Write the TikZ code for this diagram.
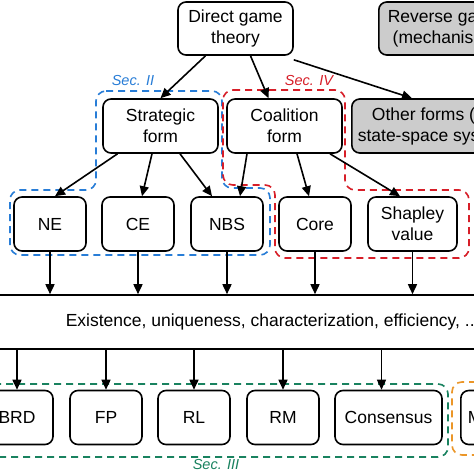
\documentclass[tikz,border=0pt]{standalone}
\usepackage{fontspec}
\setmainfont{Liberation Sans}
\usetikzlibrary{arrows.meta}
\definecolor{bleuSec}{RGB}{40,125,215}
\definecolor{rougeSec}{RGB}{215,30,40}
\definecolor{vertSec}{RGB}{25,130,95}
\definecolor{orangeSec}{RGB}{235,150,40}
\definecolor{grisBoite}{RGB}{204,204,204}
\begin{document}
\begin{tikzpicture}[x=1pt,y=-1pt]
		\tikzstyle{boite}=[draw,line width=1.6pt,rounded corners=8pt,fill=white,align=center,minimum height=54pt,minimum width=72pt,inner sep=0pt,font=\fontsize{17.5}{21}\selectfont]
		\tikzstyle{grise}=[boite,fill=grisBoite]
		\tikzstyle{fleche}=[line width=1.6pt,-{Triangle[length=10pt,width=9pt]}]
		\tikzstyle{zone}=[line width=1.6pt,dash pattern=on 7pt off 5pt,rounded corners=10pt]
		\tikzstyle{section}=[font=\fontsize{14.5}{17}\selectfont\itshape]
		\def\NiveauA{28.5}
		\def\NiveauB{126}
		\def\NiveauC{224}
		\def\NiveauD{322}
		\def\NiveauE{417.5}
		\fill[white] (0,0) rectangle (474,474);
		\useasboundingbox (0,0) rectangle (474,474);
		\clip (0,0) rectangle (474,474);
		% zones des sections
		\draw[zone,bleuSec] (96,91) -- (222,91) -- (222,188) -- (270,188) -- (270,255) -- (10,255) -- (10,190) -- (96,190) -- cycle;
		\draw[zone,rougeSec] (223,90) -- (345,90) -- (345,190) -- (469,190) -- (469,258) -- (275,258) -- (275,185) -- (223,185) -- cycle;
		\draw[zone,vertSec] (-30,384) -- (448,384) -- (448,457) -- (-30,457);
		\draw[zone,orangeSec] (500,382) -- (452,382) -- (452,455) -- (500,455);
		\node[section,text=bleuSec] (SecII) at (133,81) {Sec. II};
		\node[section,text=rougeSec] (SecIV) at (309,81) {Sec. IV};
		\node[section,text=vertSec] (SecIII) at (216,465) {Sec. III};
		% theorie
		\node[boite,minimum width=115pt,minimum height=53pt] (Direct) at (235.5,\NiveauA) {Direct game\\theory};
		\node[grise,anchor=west,inner xsep=9pt,minimum height=53pt] (Reverse) at (378,\NiveauA) {Reverse game theory\\(mechanism design)};
		% formes
		\node[boite,minimum width=115pt] (Strat) at (160.5,\NiveauB) {Strategic\\form};
		\node[boite,minimum width=115pt] (Coal) at (284.5,\NiveauB) {Coalition\\form};
		\node[grise,anchor=west,inner xsep=6pt] (Other) at (351,\NiveauB) {Other forms (e.g.,\\state-space systems)};
		% solutions
		\node[boite] (NE) at (50,\NiveauC) {NE};
		\node[boite] (CE) at (138,\NiveauC) {CE};
		\node[boite] (NBS) at (227,\NiveauC) {NBS};
		\node[boite] (Core) at (315,\NiveauC) {Core};
		\node[boite,minimum width=89pt] (Shapley) at (412.5,\NiveauC) {Shapley\\value};
		% proprietes
		\node[draw,line width=1.6pt,anchor=west,inner xsep=85pt,minimum height=54pt,font=\fontsize{17.5}{21}\selectfont] (Prop) at (-20,\NiveauD) {Existence, uniqueness, characterization, efficiency, ...};
		% algorithmes
		\node[boite] (BRD) at (17,\NiveauE) {BRD};
		\node[boite] (FP) at (106,\NiveauE) {FP};
		\node[boite] (RL) at (194,\NiveauE) {RL};
		\node[boite] (RM) at (283,\NiveauE) {RM};
		\node[boite,minimum width=107pt] (Consensus) at (388.5,\NiveauE) {Consensus};
		\node[boite,anchor=west,text width=60pt,align=left,inner xsep=7pt] (M) at (460,\NiveauE) {M};
		% fleches
		\draw[fleche] ([xshift=-30pt]Direct.south) -- (Strat.north);
		\draw[fleche] ([xshift=15pt]Direct.south) -- ([xshift=-16pt]Coal.north);
		\draw[fleche] ([yshift=-4pt]Direct.south east) -- ([xshift=61pt]Other.north west);
		\draw[fleche] ([xshift=-43pt]Strat.south) -- ([xshift=5pt]NE.north);
		\draw[fleche] ([xshift=-8.5pt]Strat.south) -- ([xshift=4pt]CE.north);
		\draw[fleche] ([xshift=19.5pt]Strat.south) -- ([xshift=-15pt]NBS.north);
		\draw[fleche] ([xshift=-37.5pt]Coal.south) -- ([xshift=13pt]NBS.north);
		\draw[fleche] ([xshift=12.5pt]Coal.south) -- ([xshift=-6pt]Core.north);
		\draw[fleche] ([xshift=45.5pt]Coal.south) -- ([xshift=-12.5pt]Shapley.north);
		\foreach \n in {NE,CE,NBS,Core,Shapley}
			\draw[fleche] (\n) -- (\n |- Prop.north);
		\foreach \n in {BRD,FP,RL,RM}
			\draw[fleche] (\n |- Prop.south) -- (\n);
		\coordinate (ConsHaut) at ([xshift=-7pt]Consensus.north);
		\draw[fleche] (ConsHaut |- Prop.south) -- (ConsHaut);
	\end{tikzpicture}
\end{document}
